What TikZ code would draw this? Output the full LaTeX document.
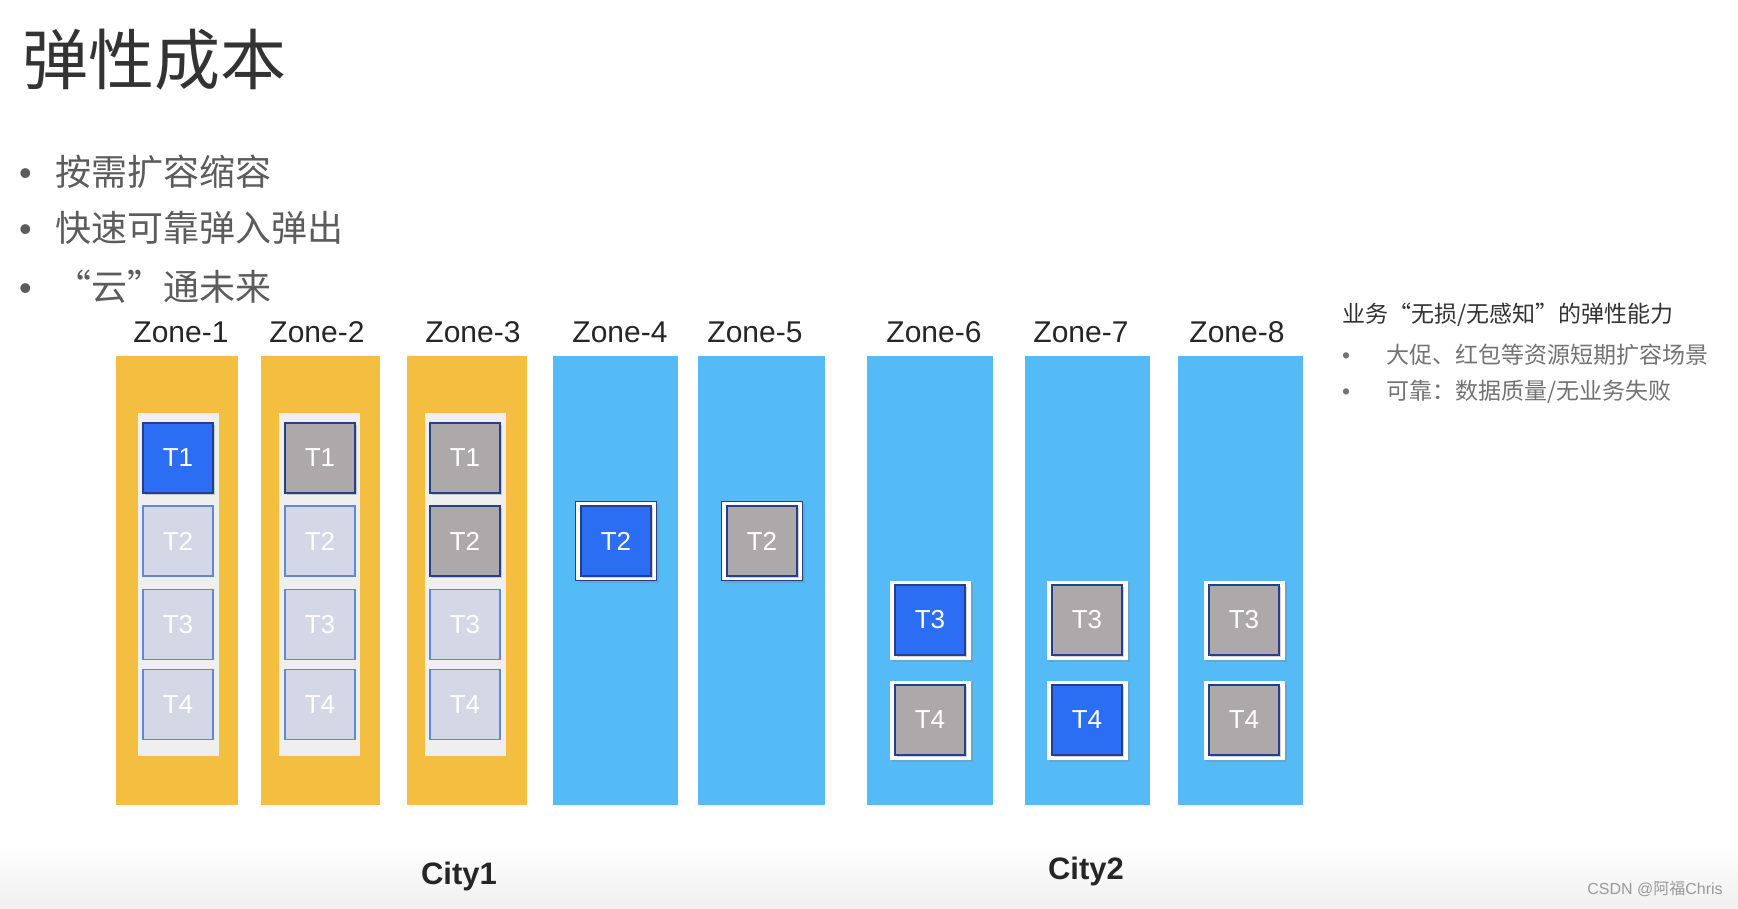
\documentclass[tikz,border=0pt]{standalone}
\usepackage{fontspec}
\setmainfont{Liberation Sans}
\newfontfamily\cjk{Noto Sans CJK SC}
\newfontfamily\cjkfw[CharacterWidth=Full]{Noto Sans CJK SC}
\usetikzlibrary{shadows}

\definecolor{zoneorange}{HTML}{F4BE41}
\definecolor{zoneblue}{HTML}{55BBF6}
\definecolor{panelgray}{HTML}{EFEFEF}
\definecolor{tilehot}{HTML}{2B6EF3}
\definecolor{tileidle}{HTML}{ADA9AB}
\definecolor{tilespare}{HTML}{D3D7E6}
\definecolor{edgedark}{HTML}{24408C}
\definecolor{edgelight}{HTML}{5E88DA}
\definecolor{textgray}{HTML}{5C5C5C}

\tikzset{
  zone/.style={rectangle, inner sep=0pt, minimum height=449pt},
  zonelabel/.style={text=black!85, font=\fontsize{30}{36}\selectfont},
  panel/.style={rectangle, fill=panelgray, inner sep=0pt, minimum width=81pt, minimum height=343pt},
  tile/.style={rectangle, inner sep=0pt, minimum width=70pt, minimum height=70pt,
    text=white, font=\fontsize{26}{30}\selectfont},
  hot/.style={tile, fill=tilehot, draw=edgedark, line width=1.5pt,
    drop shadow={shadow xshift=2pt, shadow yshift=-2pt, opacity=0.35}},
  idle/.style={tile, fill=tileidle, draw=edgedark, line width=1.5pt,
    drop shadow={shadow xshift=2pt, shadow yshift=-2pt, opacity=0.35}},
  spare/.style={tile, fill=tilespare, draw=edgelight, line width=1.2pt},
  frame/.style={rectangle, fill=white, inner sep=0pt, minimum width=81pt, minimum height=79pt,
    drop shadow={shadow xshift=2pt, shadow yshift=-2pt, opacity=0.3}},
  bullet/.style={anchor=west, inner sep=0pt, text=textgray, font=\fontsize{36}{40}\selectfont},
  note/.style={anchor=west, inner sep=0pt, text=black!55, font=\fontsize{23}{26}\selectfont},
  citylabel/.style={text=black!85, font=\bfseries\fontsize{31}{36}\selectfont}
}

\begin{document}
\begin{tikzpicture}[x=1pt, y=-1pt]
\useasboundingbox (0,0) rectangle (1738,908);
\fill[white] (0,0) rectangle (1738,908);
\shade[top color=white, bottom color=black!6] (0,845) rectangle (1738,908);

% heading and bullets
\node[anchor=west, inner sep=0pt, text=black!80, font=\fontsize{66}{70}\selectfont] (title) at (22,60) {\cjk 弹性成本};
\node[bullet] (b1) at (19,172) {\makebox[36pt][l]{•}\cjk 按需扩容缩容};
\node[bullet] (b2) at (19,228) {\makebox[36pt][l]{•}\cjk 快速可靠弹入弹出};
\node[bullet] (b3) at (19,287) {\makebox[36pt][l]{•}{\cjkfw “}\cjk 云{\cjkfw ”}通未来};

% side notes
\node[note, text=black!80] (n0) at (1342,315) {\cjk 业务{\cjkfw “}无损/无感知{\cjkfw ”}的弹性能力};
\node[note] (n1) at (1342,355) {\makebox[44pt][l]{•}\cjk 大促、红包等资源短期扩容场景};
\node[note] (n2) at (1342,392) {\makebox[44pt][l]{•}\cjk 可靠：数据质量/无业务失败};

% zones
\node[zone, fill=zoneorange, minimum width=122pt] (z1) at (177,580.5) {};
\node[zone, fill=zoneorange, minimum width=119pt] (z2) at (320.5,580.5) {};
\node[zone, fill=zoneorange, minimum width=120pt] (z3) at (467,580.5) {};
\node[zone, fill=zoneblue, minimum width=125pt] (z4) at (615.5,580.5) {};
\node[zone, fill=zoneblue, minimum width=127pt] (z5) at (761.5,580.5) {};
\node[zone, fill=zoneblue, minimum width=126pt] (z6) at (930,580.5) {};
\node[zone, fill=zoneblue, minimum width=125pt] (z7) at (1087.5,580.5) {};
\node[zone, fill=zoneblue, minimum width=125pt] (z8) at (1240.5,580.5) {};

\node[zonelabel] (l1) at (181,332) {Zone-1};
\node[zonelabel] (l2) at (317,332) {Zone-2};
\node[zonelabel] (l3) at (473,332) {Zone-3};
\node[zonelabel] (l4) at (620,332) {Zone-4};
\node[zonelabel] (l5) at (755,332) {Zone-5};
\node[zonelabel] (l6) at (934,332) {Zone-6};
\node[zonelabel] (l7) at (1081,332) {Zone-7};
\node[zonelabel] (l8) at (1237,332) {Zone-8};

% city1 panels
\node[panel] (p1) at (178.5,584.5) {};
\node[panel] (p2) at (319.5,584.5) {};
\node[panel] (p3) at (465,584.5) {};

\node[hot] (z1t1) at (178,458) {T1};
\node[spare] (z1t2) at (178,541) {T2};
\node[spare] (z1t3) at (178,624.5) {T3};
\node[spare] (z1t4) at (178,704.5) {T4};

\node[idle] (z2t1) at (320,458) {T1};
\node[spare] (z2t2) at (320,541) {T2};
\node[spare] (z2t3) at (320,624.5) {T3};
\node[spare] (z2t4) at (320,704.5) {T4};

\node[idle] (z3t1) at (465,458) {T1};
\node[idle] (z3t2) at (465,541) {T2};
\node[spare] (z3t3) at (465,624.5) {T3};
\node[spare] (z3t4) at (465,704.5) {T4};

% borrowed tiles
\node[frame, draw=edgedark, line width=1pt] (f4) at (616,541) {};
\node[hot] (z4t2) at (616,541) {T2};
\node[frame, draw=edgedark, line width=1pt] (f5) at (762,541) {};
\node[idle] (z5t2) at (762,541) {T2};

\node[frame] (f6a) at (930,620) {};
\node[hot] (z6t3) at (930,620) {T3};
\node[frame] (f6b) at (930,720) {};
\node[idle] (z6t4) at (930,720) {T4};

\node[frame] (f7a) at (1087,620) {};
\node[idle] (z7t3) at (1087,620) {T3};
\node[frame] (f7b) at (1087,720) {};
\node[hot] (z7t4) at (1087,720) {T4};

\node[frame] (f8a) at (1244,620) {};
\node[idle] (z8t3) at (1244,620) {T3};
\node[frame] (f8b) at (1244,720) {};
\node[idle] (z8t4) at (1244,720) {T4};

\node[citylabel] (c1) at (459,876) {City1};
\node[citylabel] (c2) at (1086,871) {City2};

\node[text=black!40, font=\fontsize{16}{18}\selectfont] (mark) at (1655,889) {CSDN @{\cjk 阿福}Chris};
\end{tikzpicture}
\end{document}
